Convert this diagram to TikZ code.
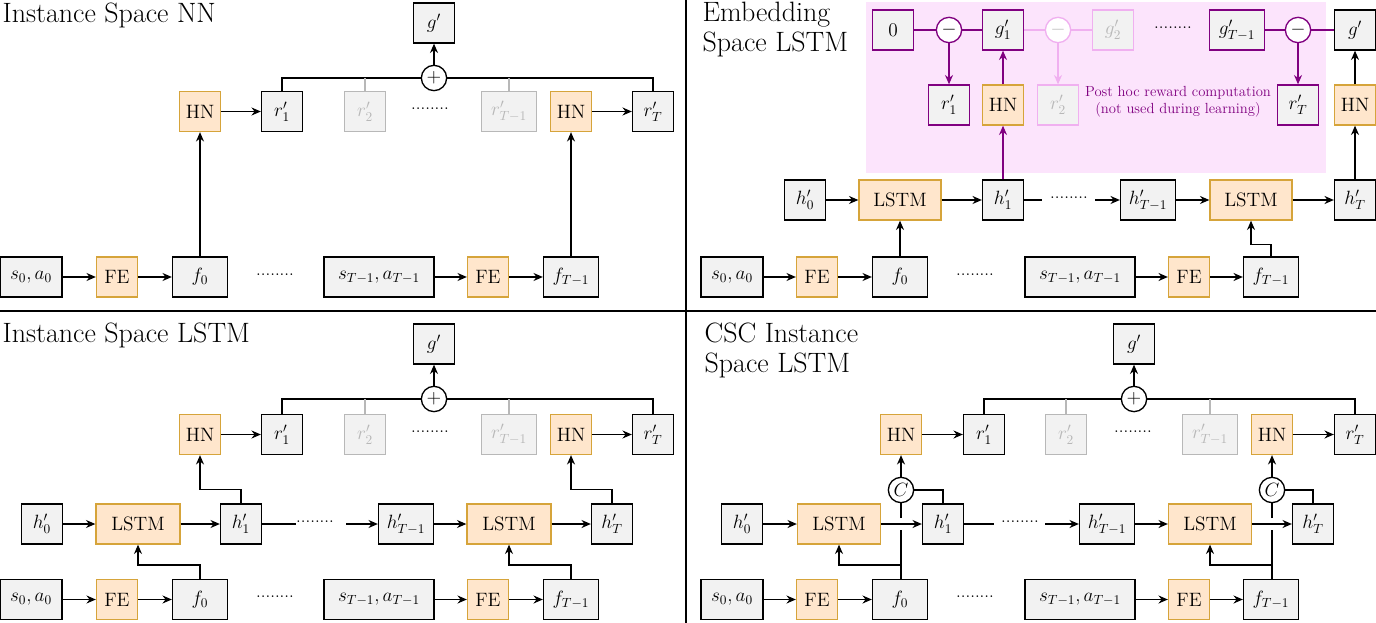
\documentclass[tikz,border=0pt]{standalone}
\usepackage{fontspec}
\usetikzlibrary{arrows.meta}
\definecolor{bfill}{HTML}{F2F2F2}
\definecolor{ofill}{HTML}{FFE6CC}
\definecolor{odraw}{HTML}{D6A43A}
\definecolor{pinkbg}{HTML}{FCE4FC}
\definecolor{pur}{HTML}{800080}
\definecolor{lpink}{HTML}{F0B0F0}
\definecolor{ghost}{HTML}{B8B8B8}
\begin{document}
\begin{tikzpicture}[x=0.75pt,y=-0.75pt,
  >={Stealth[length=7pt,width=6pt]},
  every node/.style={font=\fontsize{14.5}{17}\selectfont},
  w/.style={minimum width=#1*0.75pt},
  box/.style={draw=black,fill=bfill,line width=1pt,minimum height=30pt,inner sep=0pt,w=41},
  obox/.style={box,draw=odraw,fill=ofill},
  gbox/.style={box,draw=ghost,text=ghost},
  pbox/.style={box,draw=pur},
  lbox/.style={box,draw=lpink,text=ghost},
  circ/.style={draw,circle,fill=white,line width=1pt,minimum size=19pt,inner sep=0pt},
  ttl/.style={anchor=north west,align=left,font=\fontsize{21}{23}\selectfont,inner sep=1pt},
  dots/.style={font=\fontsize{13}{15}\selectfont},
  ln/.style={line width=1pt},
  ar/.style={ln,->},
]
\useasboundingbox (0,0) rectangle (1376,623);
\fill[pinkbg] (866,2) rectangle (1326,173);
\draw[line width=1pt] (686,0) -- (686,623);
\draw[line width=1pt] (0,311) -- (1376,311);

% ---------- Panel A: Instance Space NN ----------
\node[ttl] (aT) at (1,1) {Instance Space NN};
\node[box] (ag) at (434,23) {$g'$};
\node[circ] (ap) at (434,78) {$+$};
\node[obox] (ah1) at (200,111.5) {HN};
\node[box] (ar1) at (282,111.5) {$r'_1$};
\node[gbox] (ar2) at (365,111.5) {$r'_2$};
\node[dots] (ad1) at (430,109) {........};
\node[gbox,w=55] (arT1) at (509,111.5) {$r'_{T-1}$};
\node[obox] (ah2) at (571,111.5) {HN};
\node[box] (arT) at (653,111.5) {$r'_T$};
\node[box,w=62] (as0) at (31,277) {$s_0,a_0$};
\node[obox] (afe1) at (117,277) {FE};
\node[box,w=55] (af0) at (200,277) {$f_0$};
\node[dots] (ad2) at (275,275) {........};
\node[box,w=110] (asT) at (379,277) {$s_{T-1},a_{T-1}$};
\node[obox] (afe2) at (488,277) {FE};
\node[box,w=55] (afT) at (571,277) {$f_{T-1}$};
\draw[ar] (as0) -- (afe1); \draw[ar] (afe1) -- (af0);
\draw[ar] (asT) -- (afe2); \draw[ar] (afe2) -- (afT);
\draw[ar] (af0) -- (ah1); \draw[ar] (afT) -- (ah2);
\draw[ar] (ah1) -- (ar1); \draw[ar] (ah2) -- (arT);
\draw[ln] (ar1.north) |- (ap.west); \draw[ln] (arT.north) |- (ap.east);
\draw[ln,ghost] (ar2.north) -- (ar2.north |- ap.center);
\draw[ln,ghost] (arT1.north) -- (arT1.north |- ap.center);
\draw[ar] (ap) -- (ag);

% ---------- Panel B: Embedding Space LSTM ----------
\node[ttl] (bT) at (701,0) {Embedding\\Space LSTM};
\node[pbox] (bz) at (893,30) {0};
\node[circ,draw=pur] (bm1) at (949,30) {$-$};
\node[pbox] (bg1) at (1003,30) {$g'_1$};
\node[circ,draw=lpink,text=ghost] (bm2) at (1058,30) {$-$};
\node[lbox] (bg2) at (1113,30) {$g'_2$};
\node[dots] (bd0) at (1173,28) {........};
\node[pbox,w=55] (bgT1) at (1237,30) {$g'_{T-1}$};
\node[circ,draw=pur] (bm3) at (1298,30) {$-$};
\node[box] (bgp) at (1355,30) {$g'$};
\node[pbox] (br1) at (949,105) {$r'_1$};
\node[obox] (bh1n) at (1003,105) {HN};
\node[lbox] (br2) at (1058,105) {$r'_2$};
\node[align=center,text=pur,font=\fontsize{11}{13}\selectfont] (btx) at (1178,102) {Post hoc reward computation\\(not used during learning)};
\node[pbox] (brT) at (1298,105) {$r'_T$};
\node[obox] (bhTn) at (1355,105) {HN};
\node[box] (bh0) at (805,200) {$h'_0$};
\node[obox,w=82] (bl1) at (900,200) {LSTM};
\node[box] (bh1) at (1003,200) {$h'_1$};
\node[dots] (bd1) at (1069,198) {........};
\coordinate (bc1) at (1042,200); \coordinate (bc2) at (1095,200);
\node[box,w=55] (bhT1) at (1148,200) {$h'_{T-1}$};
\node[obox,w=82] (bl2) at (1251,200) {LSTM};
\node[box] (bhT) at (1355,200) {$h'_T$};
\node[box,w=62] (bs0) at (732,277) {$s_0,a_0$};
\node[obox] (bfe1) at (817,277) {FE};
\node[box,w=55] (bf0) at (900,277) {$f_0$};
\node[dots] (bd2) at (975,275) {........};
\node[box,w=110] (bsT) at (1080,277) {$s_{T-1},a_{T-1}$};
\node[obox] (bfe2) at (1189,277) {FE};
\node[box,w=55] (bfT) at (1271,277) {$f_{T-1}$};
\draw[ar] (bs0) -- (bfe1); \draw[ar] (bfe1) -- (bf0);
\draw[ar] (bsT) -- (bfe2); \draw[ar] (bfe2) -- (bfT);
\draw[ar] (bf0) -- (bl1);
\draw[ar] (bfT.north) |- ++(0,-12) -| (bl2.south);
\draw[ar] (bh0) -- (bl1); \draw[ar] (bl1) -- (bh1);
\draw[ln] (bh1) -- (bc1); \draw[ar] (bc2) -- (bhT1);
\draw[ar] (bhT1) -- (bl2); \draw[ar] (bl2) -- (bhT);
\draw[ar,pur] (bh1) -- (bh1n); \draw[ar,pur] (bh1n) -- (bg1);
\draw[ar] (bhT) -- (bhTn); \draw[ar] (bhTn) -- (bgp);
\draw[ln,pur] (bz) -- (bm1) -- (bg1);
\draw[ln,lpink] (bg1) -- (bm2) -- (bg2);
\draw[ln,pur] (bgT1) -- (bm3) -- (bgp);
\draw[ar,pur] (bm1) -- (br1);
\draw[ar,lpink] (bm2) -- (br2);
\draw[ar,pur] (bm3) -- (brT);

% ---------- Panel C: Instance Space LSTM ----------
\node[ttl] (cT) at (1,321) {Instance Space LSTM};
\node[box] (cg) at (434,344) {$g'$};
\node[circ] (cp) at (434,399) {$+$};
\node[obox] (ch1n) at (200,434.5) {HN};
\node[box] (cr1) at (282,434.5) {$r'_1$};
\node[gbox] (cr2) at (365,434.5) {$r'_2$};
\node[dots] (cd0) at (430,432) {........};
\node[gbox,w=55] (crT1) at (509,434.5) {$r'_{T-1}$};
\node[obox] (chTn) at (571,434.5) {HN};
\node[box] (crT) at (653,434.5) {$r'_T$};
\node[box] (ch0) at (42,524) {$h'_0$};
\node[obox,w=84] (cl1) at (138,524) {LSTM};
\node[box] (ch1) at (241,524) {$h'_1$};
\node[dots] (cd1) at (315,522) {........};
\coordinate (cc1) at (296,524); \coordinate (cc2) at (346,524);
\node[box,w=55] (chT1) at (406,524) {$h'_{T-1}$};
\node[obox,w=84] (cl2) at (509,524) {LSTM};
\node[box] (chT) at (612,524) {$h'_T$};
\node[box,w=62] (cs0) at (31,599.5) {$s_0,a_0$};
\node[obox] (cfe1) at (117,599.5) {FE};
\node[box,w=55] (cf0) at (200,599.5) {$f_0$};
\node[dots] (cd2) at (275,597) {........};
\node[box,w=110] (csT) at (379,599.5) {$s_{T-1},a_{T-1}$};
\node[obox] (cfe2) at (488,599.5) {FE};
\node[box,w=55] (cfT) at (571,599.5) {$f_{T-1}$};
\draw[ar] (cs0) -- (cfe1); \draw[ar] (cfe1) -- (cf0);
\draw[ar] (csT) -- (cfe2); \draw[ar] (cfe2) -- (cfT);
\draw[ar] (cf0.north) |- ++(0,-14) -| (cl1.south);
\draw[ar] (cfT.north) |- ++(0,-14) -| (cl2.south);
\draw[ar] (ch0) -- (cl1); \draw[ar] (cl1) -- (ch1);
\draw[ln] (ch1) -- (cc1); \draw[ar] (cc2) -- (chT1);
\draw[ar] (chT1) -- (cl2); \draw[ar] (cl2) -- (chT);
\draw[ar] (ch1.north) |- ++(0,-14) -| (ch1n.south);
\draw[ar] (chT.north) |- ++(0,-14) -| (chTn.south);
\draw[ar] (ch1n) -- (cr1); \draw[ar] (chTn) -- (crT);
\draw[ln] (cr1.north) |- (cp.west); \draw[ln] (crT.north) |- (cp.east);
\draw[ln,ghost] (cr2.north) -- (cr2.north |- cp.center);
\draw[ln,ghost] (crT1.north) -- (crT1.north |- cp.center);
\draw[ar] (cp) -- (cg);

% ---------- Panel D: CSC Instance Space LSTM ----------
\node[ttl] (dT) at (703,321) {CSC Instance\\Space LSTM};
\node[box] (dg) at (1134,344) {$g'$};
\node[circ] (dp) at (1134,399) {$+$};
\node[obox] (dh1n) at (901,434.5) {HN};
\node[box] (dr1) at (984,434.5) {$r'_1$};
\node[gbox] (dr2) at (1066,434.5) {$r'_2$};
\node[dots] (dd0) at (1133,432) {........};
\node[gbox,w=55] (drT1) at (1210,434.5) {$r'_{T-1}$};
\node[obox] (dhTn) at (1272,434.5) {HN};
\node[box] (drT) at (1355,434.5) {$r'_T$};
\node[circ] (dc1) at (901,490) {$C$};
\node[circ] (dc2) at (1272,490) {$C$};
\node[box] (dh0) at (742,524) {$h'_0$};
\node[obox,w=83] (dl1) at (839,524) {LSTM};
\node[box] (dh1) at (943,524) {$h'_1$};
\node[dots] (dd1) at (1020,522) {........};
\coordinate (dk1) at (994,524); \coordinate (dk2) at (1045,524);
\node[box,w=55] (dhT1) at (1107,524) {$h'_{T-1}$};
\node[obox,w=83] (dl2) at (1210,524) {LSTM};
\node[box] (dhT) at (1313,524) {$h'_T$};
\node[box,w=62] (ds0) at (732,599.5) {$s_0,a_0$};
\node[obox] (dfe1) at (817,599.5) {FE};
\node[box,w=55] (df0) at (900,599.5) {$f_0$};
\node[dots] (dd2) at (975,597) {........};
\node[box,w=110] (dsT) at (1080,599.5) {$s_{T-1},a_{T-1}$};
\node[obox] (dfe2) at (1189,599.5) {FE};
\node[box,w=55] (dfT) at (1271,599.5) {$f_{T-1}$};
\coordinate (dj1a) at (901,530); \coordinate (dj1b) at (901,518);
\coordinate (dj2a) at (1272,530); \coordinate (dj2b) at (1272,518);
\draw[ar] (ds0) -- (dfe1); \draw[ar] (dfe1) -- (df0);
\draw[ar] (dsT) -- (dfe2); \draw[ar] (dfe2) -- (dfT);
\draw[ar] (dh0) -- (dl1); \draw[ar] (dl1) -- (dh1);
\draw[ln] (dh1) -- (dk1); \draw[ar] (dk2) -- (dhT1);
\draw[ar] (dhT1) -- (dl2); \draw[ar] (dl2) -- (dhT);
\draw[ln] (df0.north -| dj1a) -- (dj1a); \draw[ln] (dj1b) -- (dc1);
\draw[ln] (dfT.north -| dj2a) -- (dj2a); \draw[ln] (dj2b) -- (dc2);
\draw[ar] (df0.north -| dj1a) ++(0,-14) -| (dl1.south);
\draw[ar] (dfT.north -| dj2a) ++(0,-14) -| (dl2.south);
\draw[ln] (dh1.north) |- (dc1.east);
\draw[ln] (dhT.north) |- (dc2.east);
\draw[ar] (dc1) -- (dh1n); \draw[ar] (dc2) -- (dhTn);
\draw[ar] (dh1n) -- (dr1); \draw[ar] (dhTn) -- (drT);
\draw[ln] (dr1.north) |- (dp.west); \draw[ln] (drT.north) |- (dp.east);
\draw[ln,ghost] (dr2.north) -- (dr2.north |- dp.center);
\draw[ln,ghost] (drT1.north) -- (drT1.north |- dp.center);
\draw[ar] (dp) -- (dg);
\end{tikzpicture}
\end{document}
